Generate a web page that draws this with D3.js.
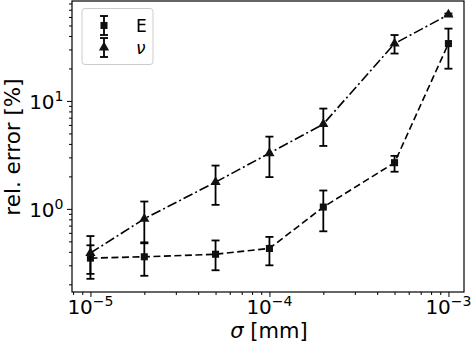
<!DOCTYPE html>
<html><head><meta charset="utf-8">
<script src="https://cdn.jsdelivr.net/npm/d3@7"></script>
<style>body{margin:0;background:#fff}svg{display:block}text{font-family:"DejaVu Sans",sans-serif;fill:#000}</style>
</head><body>
<script>
const sigma = [1e-5, 2e-5, 5e-5, 1e-4, 2e-4, 5e-4, 1e-3];
const E     = [0.35, 0.36, 0.38, 0.43, 1.04, 2.68, 34];
const E_lo  = [0.25, 0.24, 0.27, 0.30, 0.62, 2.21, 19.9];
const E_hi  = [0.46, 0.48, 0.51, 0.55, 1.48, 3.1, 46.8];
const nu    = [0.39, 0.81, 1.77, 3.28, 6.1, 34, 63];
const nu_lo = [0.225, 0.49, 1.09, 1.97, 3.83, 27.5, 61.5];
const nu_hi = [0.56, 1.17, 2.52, 4.67, 8.5, 40.8, 64.5];
const xMajor = [1e-5, 1e-4, 1e-3];
const xMajorExp = ["\u22125", "\u22124", "\u22123"];
const yMajor = [1, 10];
const yMajorExp = ["0", "1"];
const seriesNames = ["E", "\u03bd"];

const W = 474, H = 345;
const m = {l: 72, r: 10, t: 1, b: 53};
const svg = d3.select("body").append("svg").attr("width", W).attr("height", H);
const x = d3.scaleLog().domain([Math.pow(10, -5.103), Math.pow(10, -2.913)]).range([m.l, W - m.r]);
const y = d3.scaleLog().domain([Math.pow(10, -0.77), Math.pow(10, 1.926)]).range([H - m.b, m.t]);

function minors(scale) {
  const [a, b] = scale.domain();
  const out = [];
  for (let e = Math.floor(Math.log10(a)); e <= Math.ceil(Math.log10(b)); e++)
    for (let k = 2; k <= 9; k++) { const v = k * Math.pow(10, e); if (v >= a && v <= b) out.push(v); }
  return out;
}

// x axis
const gx = svg.append("g").attr("transform", `translate(0,${H - m.b})`);
gx.call(d3.axisBottom(x).tickValues(xMajor).tickSize(5).tickFormat(""));
gx.append("g").call(d3.axisBottom(x).tickValues(minors(x)).tickSize(3).tickFormat(""));
gx.selectAll(".domain").remove();
gx.selectAll("line").attr("stroke", "#000").attr("stroke-width", 1);
xMajor.forEach((v, i) => {
  const t = gx.append("text").attr("x", x(v)).attr("y", 21.5).attr("text-anchor", "middle").attr("font-size", 20);
  t.append("tspan").text("10");
  t.append("tspan").attr("dy", -7.5).attr("font-size", 14).text(xMajorExp[i]);
});

// y axis
const gy = svg.append("g").attr("transform", `translate(${m.l},0)`);
gy.call(d3.axisLeft(y).tickValues(yMajor).tickSize(5).tickFormat(""));
gy.append("g").call(d3.axisLeft(y).tickValues(minors(y)).tickSize(3).tickFormat(""));
gy.selectAll(".domain").remove();
gy.selectAll("line").attr("stroke", "#000").attr("stroke-width", 1);
yMajor.forEach((v, i) => {
  const t = gy.append("text").attr("x", -8.5).attr("y", y(v) + 8).attr("text-anchor", "end").attr("font-size", 20);
  t.append("tspan").text("10");
  t.append("tspan").attr("dy", -7.5).attr("font-size", 14).text(yMajorExp[i]);
});

// frame
svg.append("rect").attr("x", m.l).attr("y", m.t).attr("width", W - m.l - m.r).attr("height", H - m.t - m.b)
  .attr("fill", "none").attr("stroke", "#000").attr("stroke-width", 1.2);

// labels
const xl = svg.append("text").attr("x", 269).attr("y", 338).attr("text-anchor", "middle").attr("font-size", 21);
xl.append("tspan").attr("font-style", "italic").text("\u03c3");
xl.append("tspan").text(" [mm]");
svg.append("text").attr("transform", `translate(19.5,147) rotate(-90)`).attr("text-anchor", "middle").attr("font-size", 21.5).text("rel. error [%]");

const plot = svg.append("g");
const cap = 4;
function series(vals, lo, hi, dash, marker) {
  const line = d3.line().x((d, i) => x(sigma[i])).y(d => y(d));
  plot.append("path").attr("d", line(vals)).attr("fill", "none").attr("stroke", "#000").attr("stroke-width", 1.6).attr("stroke-dasharray", dash);
  const g = plot.append("g");
  vals.forEach((v, i) => {
    const cx = x(sigma[i]);
    g.append("line").attr("x1", cx).attr("x2", cx).attr("y1", y(lo[i])).attr("y2", y(hi[i])).attr("stroke", "#000").attr("stroke-width", 1.8);
    [lo[i], hi[i]].forEach(b => g.append("line").attr("x1", cx - cap).attr("x2", cx + cap).attr("y1", y(b)).attr("y2", y(b)).attr("stroke", "#000").attr("stroke-width", 1.8));
    g.append("path").attr("transform", `translate(${cx},${y(v)})`).attr("d", marker).attr("fill", "#111");
  });
}
const sq = d3.symbol(d3.symbolSquare, 50)();
const tri = d3.symbol(d3.symbolTriangle, 45)();
series(E, E_lo, E_hi, "7,3.5", sq);
series(nu, nu_lo, nu_hi, "10,3,2,3", tri);

// legend
const lg = svg.append("g");
lg.append("rect").attr("x", 82).attr("y", 8.5).attr("width", 71).attr("height", 56).attr("rx", 3)
  .attr("fill", "#fff").attr("fill-opacity", 0.8).attr("stroke", "#ccc").attr("stroke-width", 1);
[[25.5, sq], [47.5, tri]].forEach(([ly, mk], i) => {
  lg.append("line").attr("x1", 104).attr("x2", 104).attr("y1", ly - 9.5).attr("y2", ly + 9.5).attr("stroke", "#000").attr("stroke-width", 1.8);
  [ly - 9.5, ly + 9.5].forEach(b => lg.append("line").attr("x1", 104 - cap).attr("x2", 104 + cap).attr("y1", b).attr("y2", b).attr("stroke", "#000").attr("stroke-width", 1.8));
  lg.append("path").attr("transform", `translate(104,${ly})`).attr("d", mk).attr("fill", "#111");
  lg.append("text").attr("x", 136).attr("y", ly + 6).attr("font-size", 17).attr("font-style", i ? "italic" : "normal").text(seriesNames[i]);
});
</script>
</body></html>
